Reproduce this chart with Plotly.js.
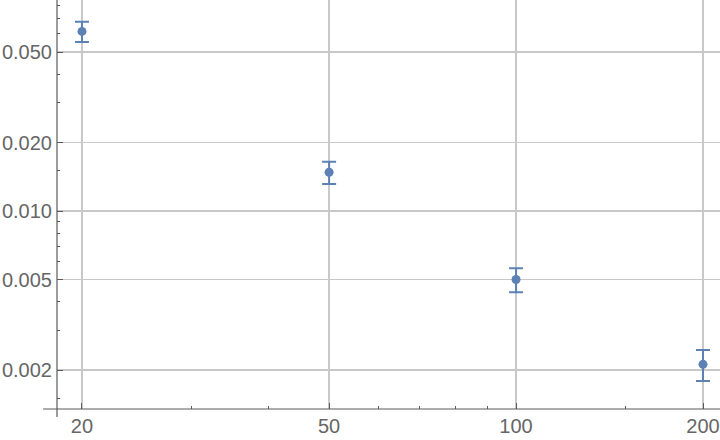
<!DOCTYPE html>
<html>
<head>
<meta charset="utf-8">
<script src="https://cdn.plot.ly/plotly-3.0.1.min.js"></script>
<style>
  html, body { margin: 0; padding: 0; background: #fff; }
  #chart { width: 720px; height: 440px; }
</style>
</head>
<body>
<div id="chart"></div>
<script>
// sample size vs. measured value, with error bars
var sizes = [20, 50, 100, 200];
var values = [0.0616, 0.0148, 0.0050, 0.00212];
var errors = [0.0063, 0.00165, 0.0006, 0.00033];

var xTicks = [20, 50, 100, 200];
var xMinor = [30, 40, 60, 70, 80, 90, 150];
var yTicks = [0.002, 0.005, 0.01, 0.02, 0.05];
var yTickText = ['0.002', '0.005', '0.010', '0.020', '0.050'];
var yMinor = [0.0015, 0.003, 0.004, 0.006, 0.007, 0.008, 0.009, 0.015, 0.03, 0.04, 0.06, 0.07, 0.08];

var blue = '#5e81b5';
var axisGray = '#5a5a5a';
var gridGray = '#c8c8c8';

var trace = {
  x: sizes,
  y: values,
  type: 'scatter',
  mode: 'markers',
  marker: {color: blue, size: 9},
  error_y: {
    type: 'data',
    array: errors,
    visible: true,
    color: blue,
    thickness: 2,
    width: 7
  },
  cliponaxis: false,
  hoverinfo: 'x+y'
};

var tickFont = {family: '"Liberation Sans", Arial, sans-serif', size: 20, color: '#666666'};

var layout = {
  width: 720,
  height: 440,
  margin: {l: 57, r: 0, t: 0, b: 31, pad: 0},
  paper_bgcolor: '#ffffff',
  plot_bgcolor: '#ffffff',
  showlegend: false,
  xaxis: {
    type: 'log',
    range: [1.2608, 2.3284],
    tickmode: 'array',
    tickvals: xTicks,
    ticktext: xTicks.map(String),
    ticks: 'inside',
    ticklen: 6,
    tickwidth: 1,
    tickcolor: axisGray,
    showgrid: true,
    gridcolor: gridGray,
    gridwidth: 1.5,
    showline: false,
    zeroline: false,
    tickfont: tickFont,
    ticklabelstandoff: 3,
    minor: {
      tickmode: 'array',
      tickvals: xMinor,
      ticks: 'inside',
      ticklen: 3,
      tickcolor: axisGray,
      showgrid: false
    }
  },
  yaxis: {
    type: 'log',
    range: [-2.870, -1.0725],
    tickmode: 'array',
    tickvals: yTicks,
    ticktext: yTickText,
    ticks: 'inside',
    ticklen: 6,
    tickwidth: 1,
    tickcolor: axisGray,
    showgrid: true,
    gridcolor: gridGray,
    gridwidth: 1.5,
    showline: false,
    zeroline: false,
    tickfont: tickFont,
    ticklabelstandoff: 4,
    minor: {
      tickmode: 'array',
      tickvals: yMinor,
      ticks: 'inside',
      ticklen: 3,
      tickcolor: axisGray,
      showgrid: false
    }
  },
  // axes cross a little past each other, as in the original
  shapes: [
    {type: 'line', xref: 'paper', yref: 'paper', x0: -0.021, x1: 1, y0: 0, y1: 0,
     line: {color: axisGray, width: 1.2}},
    {type: 'line', xref: 'paper', yref: 'paper', x0: 0, x1: 0, y0: -0.0196, y1: 1,
     line: {color: axisGray, width: 1.2}}
  ]
};

Plotly.newPlot('chart', [trace], layout, {displayModeBar: false, staticPlot: true});
</script>
</body>
</html>
